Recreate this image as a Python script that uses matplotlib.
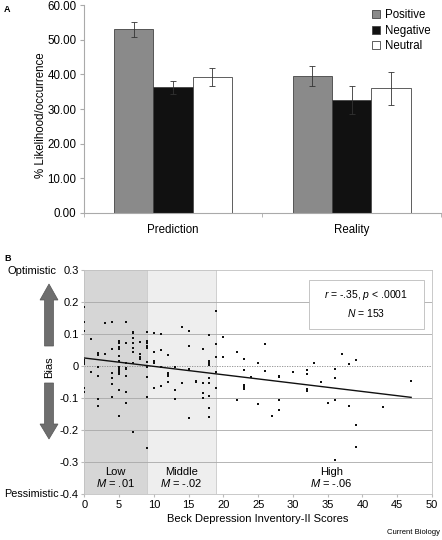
import matplotlib

matplotlib.use("Agg")
import matplotlib.pyplot as plt
from matplotlib.patches import FancyArrow, Patch, Rectangle
from matplotlib.ticker import FixedLocator, FuncFormatter

plt.rcParams.update(
    {
        "font.family": ["Liberation Sans", "DejaVu Sans"],
        "font.size": 8.3,
        "mathtext.fontset": "custom",
        "mathtext.rm": "Liberation Sans",
        "mathtext.it": "Liberation Sans:italic",
        "figure.facecolor": "white",
        "savefig.facecolor": "white",
    }
)

# panel A
categories = ["Prediction", "Reality"]
series_names = ["Positive", "Negative", "Neutral"]
means = {
    "Positive": [53.0, 39.6],
    "Negative": [36.3, 32.6],
    "Neutral": [39.2, 36.0],
}
errors = {
    "Positive": [2.1, 2.9],
    "Negative": [1.9, 3.9],
    "Neutral": [2.5, 4.8],
}
bar_colors = {"Positive": "#8a8a8a", "Negative": "#111111", "Neutral": "#ffffff"}

# panel B
bdi_scores = (
    [0] * 8 + [1] * 2 + [2] * 6 + [3] * 2 + [4] * 6 + [5] * 13 + [6] * 8 + [7] * 8
    + [8] * 4 + [9] * 10 + [10] * 5 + [11] * 4 + [12] * 5 + [13] * 3 + [14] * 2
    + [15] * 4 + [16] * 2 + [17] * 4 + [18] * 9 + [19] * 5 + [20] * 2 + [22] * 2
    + [23] * 5 + [24] + [25] * 2 + [26] * 2 + [27] + [28] * 4 + [30] + [32] * 4
    + [33] + [34] + [35] + [36] * 4 + [37] + [38] * 2 + [39] * 3 + [43] + [47]
)
bias_values = [
    0.183, 0.138, 0.108, 0.020, 0.012, 0.005, -0.068, -0.081,
    0.083, -0.018,
    0.040, 0.034, -0.004, -0.031, -0.104, -0.124,
    0.133, 0.038,
    0.138, 0.052, -0.021, -0.036, -0.056, -0.096,
    0.078, 0.073, 0.058, 0.052, 0.032, 0.017, -0.002, -0.009, -0.015, -0.020, -0.025, -0.075, -0.156,
    0.138, 0.073, 0.010, -0.005, -0.010, -0.031, -0.080, -0.116,
    0.107, 0.104, 0.086, 0.071, 0.055, 0.045, 0.010, -0.205,
    0.074, 0.036, 0.027, 0.021,
    0.107, 0.078, 0.073, 0.062, 0.055, 0.014, -0.002, -0.033, -0.098, -0.255,
    0.104, 0.045, 0.017, 0.010, -0.070,
    0.100, 0.050, -0.002, -0.064,
    0.034, -0.021, -0.026, -0.031, -0.051,
    -0.004, -0.075, -0.104,
    0.121, -0.054,
    0.109, 0.062, -0.010, -0.163,
    -0.046, -0.049,
    0.053, -0.054, -0.083, -0.101,
    0.097, 0.017, 0.008, 0.003, -0.038, -0.054, -0.094, -0.130, -0.158,
    0.173, 0.069, 0.029, -0.018, -0.070,
    0.091, 0.027,
    0.045, -0.106,
    0.022, -0.012, -0.059, -0.066, -0.072,
    -0.033,
    0.010, -0.120,
    0.068, -0.015,
    -0.155,
    -0.031, -0.035, -0.106, -0.137,
    -0.018,
    -0.012, -0.025, -0.072, -0.077,
    0.010,
    -0.049,
    -0.116,
    -0.010, -0.036, -0.106, -0.295,
    0.036,
    0.005, -0.125,
    0.019, -0.183, -0.254,
    -0.127,
    -0.047,
]
fit_x = [0, 47]
fit_y = [0.025, -0.098]
group_bounds = [0, 9, 19, 50]
group_names = ["Low", "Middle", "High"]
group_means = [".01", "-.02", "-.06"]
group_shades = ["#d6d6d6", "#eeeeee", "#ffffff"]

W, H = 442, 540
fig = plt.figure(figsize=(W / 100, H / 100), dpi=100)


def px(x, y):
    return x / W, 1 - y / H


# ---- panel A ----
ax1 = fig.add_axes([83.5 / W, 1 - 213 / H, (441 - 83.5) / W, 208 / H])
width = 0.22
for i, name in enumerate(series_names):
    xs = [c + (i - 1) * width for c in range(len(categories))]
    ax1.bar(xs, means[name], width=width, color=bar_colors[name], edgecolor="#444444",
            linewidth=0.6, label=name, zorder=2)
    ax1.errorbar(xs, means[name], yerr=errors[name], fmt="none", ecolor="#333333",
                 elinewidth=0.6, capsize=2, capthick=0.6, zorder=3)
ax1.set_xlim(-0.5, 1.5)
ax1.set_ylim(0, 60)
ax1.set_yticks(range(0, 61, 10))
ax1.yaxis.set_major_formatter(FuncFormatter(lambda v, p: f"{v:.2f}"))
ax1.set_xticks([0, 1])
ax1.set_xticklabels(categories)
ax1.xaxis.set_minor_locator(FixedLocator([-0.5, 0.5, 1.5]))
ax1.tick_params(axis="x", which="major", length=0, pad=8)
ax1.tick_params(axis="x", which="minor", length=3, color="#aaaaaa")
ax1.tick_params(axis="y", length=3, color="#aaaaaa", pad=2)
for s in ["top", "right"]:
    ax1.spines[s].set_visible(False)
for s in ["left", "bottom"]:
    ax1.spines[s].set_color("#aaaaaa")
    ax1.spines[s].set_linewidth(0.8)
ax1.set_ylabel("% Likelihood/occurrence")
ax1.yaxis.set_label_coords(-0.102, 0.47)
handles = [Patch(facecolor=bar_colors[n], edgecolor="#444444", linewidth=0.6) for n in series_names]
ax1.legend(handles, series_names, loc="upper right", bbox_to_anchor=(1.0, 1.03), frameon=False,
           handlelength=0.7, handleheight=0.7, handletextpad=0.4, labelspacing=0.3)

# ---- panel B ----
ax2 = fig.add_axes([84.3 / W, 1 - 494 / H, (432 - 84.3) / W, 224 / H])
for lo, hi, shade in zip(group_bounds[:-1], group_bounds[1:], group_shades):
    ax2.axvspan(lo, hi, color=shade, lw=0, zorder=0)
for lo in group_bounds[1:3]:
    ax2.axvline(lo, color="#c8c8c8", lw=0.6, zorder=0.5)
for yv in [0.2, 0.1, -0.1, -0.2, -0.3]:
    ax2.axhline(yv, color="#a8a8a8", lw=0.6, zorder=1)
ax2.axhline(0, color="#888888", lw=0.6, ls=(0, (1.5, 1.5)), zorder=1)
ax2.scatter(bdi_scores, bias_values, s=3, marker="s", color="#111111", lw=0, zorder=3)
ax2.plot(fit_x, fit_y, color="#111111", lw=1.0, zorder=4)
ax2.add_patch(Rectangle((32.3, 0.115), 16.5, 0.153, facecolor="white", edgecolor="#bbbbbb",
                        lw=0.6, zorder=2))
ax2.text(40.5, 0.222, "$r$ = -.35, $p$ < .0001", ha="center", va="center", fontsize=7.5, zorder=5)
ax2.text(40.5, 0.166, "$N$ = 153", ha="center", va="center", fontsize=7.5, zorder=5)
for lo, hi, name, m in zip(group_bounds[:-1], group_bounds[1:], group_names, group_means):
    cx = (lo + hi) / 2 if hi < 50 else 35.5
    ax2.text(cx, -0.33, name, ha="center", va="center", fontsize=8)
    ax2.text(cx, -0.366, f"$M$ = {m}", ha="center", va="center", fontsize=8)
ax2.set_xlim(0, 50)
ax2.set_ylim(-0.4, 0.3)
ax2.set_xticks(range(0, 51, 5))
ax2.set_yticks([0.3, 0.2, 0.1, 0, -0.1, -0.2, -0.3, -0.4])
ax2.set_yticklabels(["0.3", "0.2", "0.1", "0", "-0.1", "-0.2", "-0.3", "-0.4"])
ax2.tick_params(axis="both", length=2, color="#bbbbbb", pad=2, labelsize=8)
for s in ax2.spines.values():
    s.set_color("#c0c0c0")
    s.set_linewidth(0.6)
ax2.set_xlabel("Beck Depression Inventory-II Scores", labelpad=3, fontsize=8)

# arrows and outside labels
ov = fig.add_axes([0, 0, 1, 1], zorder=-1)
ov.set_xlim(0, W)
ov.set_ylim(H, 0)
ov.axis("off")
ov.add_patch(FancyArrow(49, 346, 0, -62, width=9, head_width=18, head_length=16,
                        length_includes_head=True, facecolor="#6e6e6e", edgecolor="#555555", lw=0.5))
ov.add_patch(FancyArrow(49, 383, 0, 56, width=9, head_width=18, head_length=15,
                        length_includes_head=True, facecolor="#6e6e6e", edgecolor="#555555", lw=0.5))
fig.text(*px(56, 271), "Optimistic", ha="right", va="center", fontsize=8)
fig.text(*px(59, 494), "Pessimistic", ha="right", va="center", fontsize=7.8)
fig.text(*px(49, 367), "Bias", ha="center", va="center", rotation=90, fontsize=8)
fig.text(*px(4, 10), "A", ha="left", va="center", fontsize=6.5, fontweight="bold")
fig.text(*px(4, 258), "B", ha="left", va="center", fontsize=6.5, fontweight="bold")
fig.text(*px(440, 533), "Current Biology", ha="right", va="center", fontsize=5.5)

fig.savefig("out.png", dpi=100)
